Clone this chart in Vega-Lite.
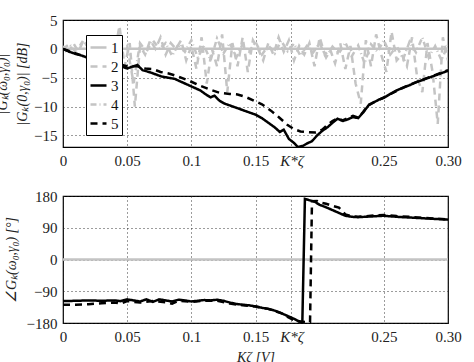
{
  "$schema": "https://vega.github.io/schema/vega-lite/v6.json",
  "autosize": {"type": "pad"},
  "padding": {"left": -6, "top": 12, "right": 0, "bottom": 0},
  "background": "white",
  "bounds": "flush",
  "spacing": 49,
  "config": {
    "font": "Liberation Serif",
    "view": {"stroke": "black", "strokeWidth": 1.2},
    "axis": {
      "domain": false,
      "ticks": false,
      "grid": true,
      "gridDash": [1, 3],
      "gridColor": "#222",
      "gridWidth": 0.9,
      "labelFont": "Liberation Serif",
      "labelFontSize": 15,
      "labelColor": "#222",
      "labelPadding": 6,
      "labelFlush": false,
      "labelOverlap": false,
      "titleFont": "Liberation Serif",
      "titleFontSize": 14,
      "titleFontWeight": "normal",
      "titleColor": "#222"
    }
  },
  "datasets": {
    "mag": [
      {"s": "1", "k": 0, "v": 0}, {"s": "1", "k": 0.3, "v": 0},
      {"s": "2", "k": 0, "v": 0.5}, {"s": "2", "k": 0.004, "v": -1.0}, {"s": "2", "k": 0.008, "v": 1.0}, {"s": "2", "k": 0.012, "v": -0.5}, {"s": "2", "k": 0.016, "v": 1.5}, {"s": "2", "k": 0.02, "v": 0.0}, {"s": "2", "k": 0.024, "v": 1.0}, {"s": "2", "k": 0.028, "v": -1.5}, {"s": "2", "k": 0.032, "v": 0.5}, {"s": "2", "k": 0.036, "v": 2.5}, {"s": "2", "k": 0.04, "v": -1.0}, {"s": "2", "k": 0.044, "v": 4.0}, {"s": "2", "k": 0.048, "v": -3.0}, {"s": "2", "k": 0.052, "v": 1.0}, {"s": "2", "k": 0.056, "v": -10.0}, {"s": "2", "k": 0.06, "v": 0.5}, {"s": "2", "k": 0.064, "v": -1.0}, {"s": "2", "k": 0.068, "v": 1.5}, {"s": "2", "k": 0.072, "v": 0.0}, {"s": "2", "k": 0.076, "v": 2.0}, {"s": "2", "k": 0.08, "v": -1.0}, {"s": "2", "k": 0.084, "v": 1.0}, {"s": "2", "k": 0.088, "v": 0.0}, {"s": "2", "k": 0.092, "v": 1.5}, {"s": "2", "k": 0.096, "v": -2.0}, {"s": "2", "k": 0.1, "v": 0.5}, {"s": "2", "k": 0.104, "v": -3.5}, {"s": "2", "k": 0.108, "v": 2.0}, {"s": "2", "k": 0.112, "v": -6.0}, {"s": "2", "k": 0.116, "v": 0.0}, {"s": "2", "k": 0.12, "v": -3.0}, {"s": "2", "k": 0.124, "v": 2.5}, {"s": "2", "k": 0.128, "v": -7.5}, {"s": "2", "k": 0.132, "v": 1.0}, {"s": "2", "k": 0.136, "v": -3.0}, {"s": "2", "k": 0.14, "v": 2.0}, {"s": "2", "k": 0.144, "v": -4.0}, {"s": "2", "k": 0.148, "v": 1.5}, {"s": "2", "k": 0.152, "v": 0.0}, {"s": "2", "k": 0.156, "v": -2.0}, {"s": "2", "k": 0.16, "v": 1.0}, {"s": "2", "k": 0.164, "v": -1.0}, {"s": "2", "k": 0.168, "v": 2.0}, {"s": "2", "k": 0.172, "v": -0.5}, {"s": "2", "k": 0.176, "v": 1.5}, {"s": "2", "k": 0.18, "v": -2.0}, {"s": "2", "k": 0.184, "v": 0.5}, {"s": "2", "k": 0.188, "v": -1.0}, {"s": "2", "k": 0.192, "v": 1.0}, {"s": "2", "k": 0.196, "v": -3.0}, {"s": "2", "k": 0.2, "v": 2.0}, {"s": "2", "k": 0.204, "v": -1.0}, {"s": "2", "k": 0.208, "v": 0.0}, {"s": "2", "k": 0.212, "v": -2.5}, {"s": "2", "k": 0.216, "v": 1.0}, {"s": "2", "k": 0.22, "v": -3.5}, {"s": "2", "k": 0.224, "v": 0.5}, {"s": "2", "k": 0.228, "v": -6.0}, {"s": "2", "k": 0.232, "v": -9.5}, {"s": "2", "k": 0.236, "v": 1.5}, {"s": "2", "k": 0.24, "v": -3.0}, {"s": "2", "k": 0.244, "v": 2.5}, {"s": "2", "k": 0.248, "v": -1.0}, {"s": "2", "k": 0.252, "v": -4.0}, {"s": "2", "k": 0.256, "v": 3.0}, {"s": "2", "k": 0.26, "v": -2.0}, {"s": "2", "k": 0.264, "v": -1.0}, {"s": "2", "k": 0.268, "v": -3.0}, {"s": "2", "k": 0.272, "v": 2.0}, {"s": "2", "k": 0.276, "v": -5.0}, {"s": "2", "k": 0.28, "v": -7.5}, {"s": "2", "k": 0.284, "v": 1.0}, {"s": "2", "k": 0.288, "v": -4.0}, {"s": "2", "k": 0.292, "v": -13.0}, {"s": "2", "k": 0.296, "v": 2.0}, {"s": "2", "k": 0.3, "v": -2.0},
      {"s": "4", "k": 0, "v": 0}, {"s": "4", "k": 0.005, "v": 0.8}, {"s": "4", "k": 0.01, "v": -0.6}, {"s": "4", "k": 0.015, "v": 1.2}, {"s": "4", "k": 0.02, "v": 0.5}, {"s": "4", "k": 0.025, "v": -0.8}, {"s": "4", "k": 0.03, "v": 1.0}, {"s": "4", "k": 0.035, "v": 0.2}, {"s": "4", "k": 0.04, "v": 1.5}, {"s": "4", "k": 0.045, "v": -1.0}, {"s": "4", "k": 0.05, "v": 0.5}, {"s": "4", "k": 0.055, "v": -6.0}, {"s": "4", "k": 0.06, "v": 1.0}, {"s": "4", "k": 0.065, "v": -0.5}, {"s": "4", "k": 0.07, "v": 1.5}, {"s": "4", "k": 0.075, "v": 0.0}, {"s": "4", "k": 0.08, "v": 1.0}, {"s": "4", "k": 0.085, "v": -1.2}, {"s": "4", "k": 0.09, "v": 0.8}, {"s": "4", "k": 0.095, "v": -0.5}, {"s": "4", "k": 0.1, "v": 1.5}, {"s": "4", "k": 0.105, "v": -1.5}, {"s": "4", "k": 0.11, "v": 0.5}, {"s": "4", "k": 0.115, "v": -2.0}, {"s": "4", "k": 0.12, "v": 1.8}, {"s": "4", "k": 0.125, "v": -0.8}, {"s": "4", "k": 0.13, "v": 1.0}, {"s": "4", "k": 0.135, "v": -1.5}, {"s": "4", "k": 0.14, "v": 0.8}, {"s": "4", "k": 0.145, "v": -0.5}, {"s": "4", "k": 0.15, "v": 1.2}, {"s": "4", "k": 0.155, "v": -1.0}, {"s": "4", "k": 0.16, "v": 0.6}, {"s": "4", "k": 0.165, "v": -0.8}, {"s": "4", "k": 0.17, "v": 1.4}, {"s": "4", "k": 0.175, "v": -0.4}, {"s": "4", "k": 0.18, "v": 0.9}, {"s": "4", "k": 0.185, "v": -1.2}, {"s": "4", "k": 0.19, "v": 0.5}, {"s": "4", "k": 0.195, "v": -0.6}, {"s": "4", "k": 0.2, "v": 1.0}, {"s": "4", "k": 0.205, "v": -1.5}, {"s": "4", "k": 0.21, "v": 0.4}, {"s": "4", "k": 0.215, "v": -0.8}, {"s": "4", "k": 0.22, "v": 1.1}, {"s": "4", "k": 0.225, "v": -1.3}, {"s": "4", "k": 0.23, "v": 0.6}, {"s": "4", "k": 0.235, "v": -2.5}, {"s": "4", "k": 0.24, "v": 0.8}, {"s": "4", "k": 0.245, "v": -0.5}, {"s": "4", "k": 0.25, "v": 1.5}, {"s": "4", "k": 0.255, "v": -1.0}, {"s": "4", "k": 0.26, "v": 0.5}, {"s": "4", "k": 0.265, "v": -1.8}, {"s": "4", "k": 0.27, "v": 1.2}, {"s": "4", "k": 0.275, "v": -0.6}, {"s": "4", "k": 0.28, "v": 2.0}, {"s": "4", "k": 0.285, "v": -1.5}, {"s": "4", "k": 0.29, "v": 0.5}, {"s": "4", "k": 0.295, "v": -2.0}, {"s": "4", "k": 0.3, "v": 0.8},
      {"s": "3", "k": 0, "v": 0}, {"s": "3", "k": 0.005, "v": -0.5}, {"s": "3", "k": 0.01, "v": -0.9}, {"s": "3", "k": 0.015, "v": -1.2}, {"s": "3", "k": 0.02, "v": -1.6}, {"s": "3", "k": 0.025, "v": -1.8}, {"s": "3", "k": 0.03, "v": -2.0}, {"s": "3", "k": 0.035, "v": -2.3}, {"s": "3", "k": 0.04, "v": -2.6}, {"s": "3", "k": 0.045, "v": -3.0}, {"s": "3", "k": 0.05, "v": -3.4}, {"s": "3", "k": 0.055, "v": -3.0}, {"s": "3", "k": 0.058, "v": -2.8}, {"s": "3", "k": 0.062, "v": -3.7}, {"s": "3", "k": 0.067, "v": -4.0}, {"s": "3", "k": 0.072, "v": -4.4}, {"s": "3", "k": 0.077, "v": -4.8}, {"s": "3", "k": 0.082, "v": -5.0}, {"s": "3", "k": 0.087, "v": -5.2}, {"s": "3", "k": 0.092, "v": -5.7}, {"s": "3", "k": 0.097, "v": -6.2}, {"s": "3", "k": 0.102, "v": -6.7}, {"s": "3", "k": 0.107, "v": -7.2}, {"s": "3", "k": 0.112, "v": -8.0}, {"s": "3", "k": 0.115, "v": -8.4}, {"s": "3", "k": 0.118, "v": -8.1}, {"s": "3", "k": 0.122, "v": -9.0}, {"s": "3", "k": 0.126, "v": -9.5}, {"s": "3", "k": 0.13, "v": -9.8}, {"s": "3", "k": 0.135, "v": -10.2}, {"s": "3", "k": 0.14, "v": -10.6}, {"s": "3", "k": 0.145, "v": -11.0}, {"s": "3", "k": 0.15, "v": -11.4}, {"s": "3", "k": 0.155, "v": -12.0}, {"s": "3", "k": 0.16, "v": -12.8}, {"s": "3", "k": 0.165, "v": -13.6}, {"s": "3", "k": 0.169, "v": -14.4}, {"s": "3", "k": 0.172, "v": -14.0}, {"s": "3", "k": 0.176, "v": -15.6}, {"s": "3", "k": 0.18, "v": -16.3}, {"s": "3", "k": 0.183, "v": -17.0}, {"s": "3", "k": 0.187, "v": -16.8}, {"s": "3", "k": 0.19, "v": -16.4}, {"s": "3", "k": 0.194, "v": -16.0}, {"s": "3", "k": 0.198, "v": -15.0}, {"s": "3", "k": 0.202, "v": -14.2}, {"s": "3", "k": 0.206, "v": -13.6}, {"s": "3", "k": 0.21, "v": -12.8}, {"s": "3", "k": 0.214, "v": -12.1}, {"s": "3", "k": 0.218, "v": -12.5}, {"s": "3", "k": 0.222, "v": -12.2}, {"s": "3", "k": 0.226, "v": -11.8}, {"s": "3", "k": 0.23, "v": -12.0}, {"s": "3", "k": 0.234, "v": -11.0}, {"s": "3", "k": 0.238, "v": -9.8}, {"s": "3", "k": 0.242, "v": -9.3}, {"s": "3", "k": 0.246, "v": -8.8}, {"s": "3", "k": 0.25, "v": -8.5}, {"s": "3", "k": 0.255, "v": -7.8}, {"s": "3", "k": 0.26, "v": -7.2}, {"s": "3", "k": 0.265, "v": -6.7}, {"s": "3", "k": 0.27, "v": -6.3}, {"s": "3", "k": 0.275, "v": -5.8}, {"s": "3", "k": 0.28, "v": -5.4}, {"s": "3", "k": 0.285, "v": -5.0}, {"s": "3", "k": 0.29, "v": -4.6}, {"s": "3", "k": 0.295, "v": -4.2}, {"s": "3", "k": 0.3, "v": -3.8},
      {"s": "5", "k": 0, "v": 0}, {"s": "5", "k": 0.01, "v": -0.8}, {"s": "5", "k": 0.02, "v": -1.5}, {"s": "5", "k": 0.03, "v": -2.0}, {"s": "5", "k": 0.04, "v": -2.5}, {"s": "5", "k": 0.05, "v": -3.0}, {"s": "5", "k": 0.058, "v": -3.0}, {"s": "5", "k": 0.064, "v": -3.4}, {"s": "5", "k": 0.07, "v": -3.5}, {"s": "5", "k": 0.076, "v": -4.0}, {"s": "5", "k": 0.083, "v": -4.3}, {"s": "5", "k": 0.09, "v": -4.8}, {"s": "5", "k": 0.1, "v": -5.7}, {"s": "5", "k": 0.107, "v": -6.4}, {"s": "5", "k": 0.115, "v": -7.1}, {"s": "5", "k": 0.122, "v": -7.6}, {"s": "5", "k": 0.13, "v": -7.8}, {"s": "5", "k": 0.136, "v": -7.9}, {"s": "5", "k": 0.142, "v": -8.3}, {"s": "5", "k": 0.149, "v": -9.0}, {"s": "5", "k": 0.155, "v": -9.6}, {"s": "5", "k": 0.162, "v": -10.7}, {"s": "5", "k": 0.168, "v": -11.8}, {"s": "5", "k": 0.175, "v": -13.2}, {"s": "5", "k": 0.18, "v": -13.9}, {"s": "5", "k": 0.185, "v": -14.3}, {"s": "5", "k": 0.19, "v": -14.4}, {"s": "5", "k": 0.197, "v": -14.5}, {"s": "5", "k": 0.202, "v": -14.0}, {"s": "5", "k": 0.206, "v": -13.2}, {"s": "5", "k": 0.21, "v": -12.5}, {"s": "5", "k": 0.214, "v": -12.0}, {"s": "5", "k": 0.218, "v": -12.4}, {"s": "5", "k": 0.222, "v": -12.0}, {"s": "5", "k": 0.226, "v": -11.6}, {"s": "5", "k": 0.23, "v": -11.9}, {"s": "5", "k": 0.234, "v": -10.9}, {"s": "5", "k": 0.238, "v": -9.7}, {"s": "5", "k": 0.25, "v": -8.4}, {"s": "5", "k": 0.27, "v": -6.2}, {"s": "5", "k": 0.3, "v": -3.7}
    ],
    "phase": [
      {"s": "1", "k": 0, "v": 0}, {"s": "1", "k": 0.3, "v": 0},
      {"s": "3", "k": 0, "v": -118}, {"s": "3", "k": 0.01, "v": -117}, {"s": "3", "k": 0.02, "v": -116}, {"s": "3", "k": 0.03, "v": -117}, {"s": "3", "k": 0.04, "v": -116}, {"s": "3", "k": 0.045, "v": -118}, {"s": "3", "k": 0.05, "v": -113}, {"s": "3", "k": 0.055, "v": -116}, {"s": "3", "k": 0.06, "v": -119}, {"s": "3", "k": 0.065, "v": -113}, {"s": "3", "k": 0.07, "v": -120}, {"s": "3", "k": 0.075, "v": -113}, {"s": "3", "k": 0.08, "v": -116}, {"s": "3", "k": 0.085, "v": -119}, {"s": "3", "k": 0.09, "v": -114}, {"s": "3", "k": 0.095, "v": -116}, {"s": "3", "k": 0.1, "v": -119}, {"s": "3", "k": 0.105, "v": -117}, {"s": "3", "k": 0.11, "v": -115}, {"s": "3", "k": 0.115, "v": -116}, {"s": "3", "k": 0.12, "v": -114}, {"s": "3", "k": 0.125, "v": -117}, {"s": "3", "k": 0.13, "v": -122}, {"s": "3", "k": 0.135, "v": -126}, {"s": "3", "k": 0.14, "v": -128}, {"s": "3", "k": 0.145, "v": -130}, {"s": "3", "k": 0.15, "v": -133}, {"s": "3", "k": 0.155, "v": -137}, {"s": "3", "k": 0.16, "v": -140}, {"s": "3", "k": 0.165, "v": -145}, {"s": "3", "k": 0.17, "v": -152}, {"s": "3", "k": 0.175, "v": -160}, {"s": "3", "k": 0.18, "v": -168}, {"s": "3", "k": 0.184, "v": -176}, {"s": "3", "k": 0.1865, "v": -178}, {"s": "3", "k": 0.1885, "v": 172}, {"s": "3", "k": 0.192, "v": 168}, {"s": "3", "k": 0.196, "v": 164}, {"s": "3", "k": 0.2, "v": 155}, {"s": "3", "k": 0.205, "v": 148}, {"s": "3", "k": 0.21, "v": 140}, {"s": "3", "k": 0.215, "v": 132}, {"s": "3", "k": 0.22, "v": 124}, {"s": "3", "k": 0.225, "v": 121}, {"s": "3", "k": 0.23, "v": 120}, {"s": "3", "k": 0.24, "v": 122}, {"s": "3", "k": 0.25, "v": 124}, {"s": "3", "k": 0.26, "v": 121}, {"s": "3", "k": 0.27, "v": 119}, {"s": "3", "k": 0.28, "v": 117}, {"s": "3", "k": 0.29, "v": 115}, {"s": "3", "k": 0.3, "v": 113},
      {"s": "5", "k": 0, "v": -128}, {"s": "5", "k": 0.01, "v": -128}, {"s": "5", "k": 0.02, "v": -127}, {"s": "5", "k": 0.03, "v": -124}, {"s": "5", "k": 0.04, "v": -122}, {"s": "5", "k": 0.045, "v": -125}, {"s": "5", "k": 0.05, "v": -118}, {"s": "5", "k": 0.06, "v": -122}, {"s": "5", "k": 0.07, "v": -118}, {"s": "5", "k": 0.08, "v": -121}, {"s": "5", "k": 0.085, "v": -125}, {"s": "5", "k": 0.09, "v": -117}, {"s": "5", "k": 0.1, "v": -120}, {"s": "5", "k": 0.11, "v": -117}, {"s": "5", "k": 0.12, "v": -117}, {"s": "5", "k": 0.13, "v": -125}, {"s": "5", "k": 0.14, "v": -130}, {"s": "5", "k": 0.15, "v": -133}, {"s": "5", "k": 0.16, "v": -140}, {"s": "5", "k": 0.165, "v": -146}, {"s": "5", "k": 0.17, "v": -152}, {"s": "5", "k": 0.175, "v": -163}, {"s": "5", "k": 0.18, "v": -172}, {"s": "5", "k": 0.185, "v": -176}, {"s": "5", "k": 0.19, "v": -178}, {"s": "5", "k": 0.1925, "v": -178}, {"s": "5", "k": 0.194, "v": 165}, {"s": "5", "k": 0.198, "v": 166}, {"s": "5", "k": 0.2, "v": 162}, {"s": "5", "k": 0.205, "v": 158}, {"s": "5", "k": 0.21, "v": 152}, {"s": "5", "k": 0.215, "v": 147}, {"s": "5", "k": 0.22, "v": 128}, {"s": "5", "k": 0.225, "v": 122}, {"s": "5", "k": 0.23, "v": 121}, {"s": "5", "k": 0.24, "v": 124}, {"s": "5", "k": 0.25, "v": 126}, {"s": "5", "k": 0.26, "v": 123}, {"s": "5", "k": 0.27, "v": 121}, {"s": "5", "k": 0.28, "v": 118}, {"s": "5", "k": 0.29, "v": 116}, {"s": "5", "k": 0.3, "v": 114}
    ]
  },
  "vconcat": [
    {
      "width": 385,
      "height": 127,
      "data": {"name": "mag"},
      "mark": {"type": "line", "strokeWidth": 2.5, "clip": true},
      "encoding": {
        "x": {
          "field": "k", "type": "quantitative",
          "scale": {"domain": [0, 0.3], "nice": false, "zero": false},
          "axis": {
            "values": [0, 0.05, 0.1, 0.15, 0.178, 0.25, 0.3],
            "labelExpr": "datum.value == 0.178 ? 'K*ζ' : datum.value == 0.3 ? '0.30' : datum.value == 0 ? '0' : format(datum.value, '~g')",
            "labelFont": "Liberation Serif",
            "labelFontStyle": {"condition": {"test": "datum.value == 0.178", "value": "italic"}, "value": "normal"},
            "title": null
          }
        },
        "y": {
          "field": "v", "type": "quantitative",
          "scale": {"domain": [-17, 5], "nice": false, "zero": false},
          "axis": {
            "values": [-15, -10, -5, 0, 5],
            "labelFont": "Liberation Serif",
            "title": ["|Gₖ(ω₀,γ₀)|", "|Gₖ(0,γ₀)|   [dB]"],
            "titleFontStyle": "italic",
            "titleLineHeight": 20,
            "titlePadding": 4
          }
        },
        "color": {
          "field": "s", "type": "nominal",
          "scale": {"domain": ["1", "2", "3", "4", "5"], "range": ["#c4c4c4", "#c4c4c4", "#000000", "#c4c4c4", "#000000"]},
          "legend": {
            "orient": "none", "legendX": 23, "legendY": 15, "title": null,
            "symbolType": "stroke", "symbolSize": 256, "symbolStrokeWidth": 2.5,
            "labelFont": "Liberation Serif", "labelFontSize": 15, "labelColor": "#111",
            "fillColor": "white", "strokeColor": "black", "padding": 3, "rowPadding": 1,
            "labelOffset": 3
          }
        },
        "strokeDash": {
          "field": "s", "type": "nominal",
          "scale": {"domain": ["1", "2", "3", "4", "5"], "range": [[1, 0], [7, 5], [1, 0], [6, 3, 1, 3], [7, 5]]},
          "legend": {
            "orient": "none", "legendX": 23, "legendY": 15, "title": null,
            "symbolType": "stroke", "symbolSize": 256, "symbolStrokeWidth": 2.5,
            "labelFont": "Liberation Serif", "labelFontSize": 15, "labelColor": "#111",
            "fillColor": "white", "strokeColor": "black", "padding": 3, "rowPadding": 1,
            "labelOffset": 3
          }
        }
      }
    },
    {
      "width": 385,
      "height": 127,
      "data": {"name": "phase"},
      "mark": {"type": "line", "strokeWidth": 2.5, "clip": true},
      "encoding": {
        "x": {
          "field": "k", "type": "quantitative",
          "scale": {"domain": [0, 0.3], "nice": false, "zero": false},
          "axis": {
            "values": [0, 0.05, 0.1, 0.15, 0.178, 0.25, 0.3],
            "labelExpr": "datum.value == 0.178 ? 'K*ζ' : datum.value == 0.3 ? '0.30' : datum.value == 0 ? '0' : format(datum.value, '~g')",
            "labelFont": "Liberation Serif",
            "labelFontStyle": {"condition": {"test": "datum.value == 0.178", "value": "italic"}, "value": "normal"},
            "title": "Kζ [V]",
            "titleFontStyle": "italic",
            "titlePadding": 6
          }
        },
        "y": {
          "field": "v", "type": "quantitative",
          "scale": {"domain": [-180, 180], "nice": false, "zero": false},
          "axis": {
            "values": [-180, -90, 0, 90, 180],
            "labelFont": "Liberation Serif",
            "title": "∠Gₖ(ω₀,γ₀) [°]",
            "titleFontStyle": "italic",
            "titlePadding": 8
          }
        },
        "color": {
          "field": "s", "type": "nominal",
          "scale": {"domain": ["1", "2", "3", "4", "5"], "range": ["#c4c4c4", "#c4c4c4", "#000000", "#c4c4c4", "#000000"]},
          "legend": null
        },
        "strokeDash": {
          "field": "s", "type": "nominal",
          "scale": {"domain": ["1", "2", "3", "4", "5"], "range": [[1, 0], [7, 5], [1, 0], [6, 3, 1, 3], [7, 5]]},
          "legend": null
        }
      }
    }
  ],
  "resolve": {"scale": {"color": "shared", "strokeDash": "shared"}, "legend": {"color": "independent", "strokeDash": "independent"}}
}
